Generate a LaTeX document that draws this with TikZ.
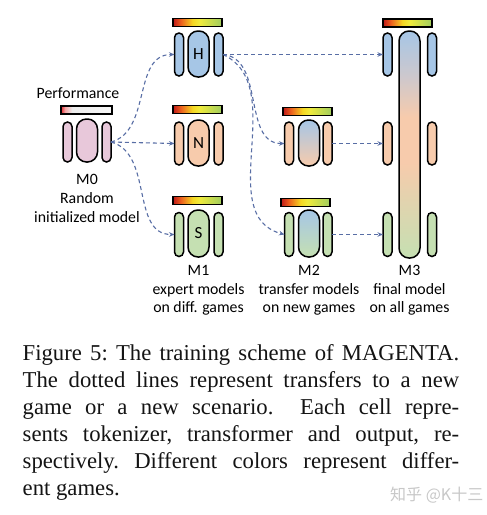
\documentclass[tikz,border=0pt]{standalone}
\usepackage{fontspec}
\setmainfont{Liberation Serif}
\newfontfamily\labfont{Carlito}
\newfontfamily\cjkfont{Noto Sans CJK SC}
\usetikzlibrary{arrows.meta,backgrounds}
\definecolor{cblue}{RGB}{166,198,230}
\definecolor{cpeach}{RGB}{247,203,172}
\definecolor{cgreen}{RGB}{197,224,178}
\definecolor{cpink}{RGB}{232,200,218}
\definecolor{cmix}{RGB}{222,213,175}
\definecolor{cbp}{RGB}{205,200,205}
\definecolor{arrowblue}{RGB}{88,110,165}
\definecolor{captext}{RGB}{20,20,20}
\definecolor{wmark}{RGB}{200,200,200}
\definecolor{pbR}{RGB}{190,25,25}
\definecolor{pbO}{RGB}{236,95,30}
\definecolor{pbY}{RGB}{245,215,35}
\definecolor{pbYY}{RGB}{240,235,60}
\definecolor{pbG}{RGB}{160,205,95}
\definecolor{pzR}{RGB}{225,40,45}
\definecolor{pzP}{RGB}{242,165,165}
\definecolor{pzW}{RGB}{236,236,236}
\definecolor{pzE}{RGB}{246,246,246}
\pgfdeclarehorizontalshading{perfshade}{100bp}{color(0bp)=(pbR); color(25bp)=(pbR); color(33bp)=(pbO); color(45bp)=(pbY); color(52bp)=(pbYY); color(75bp)=(pbG); color(100bp)=(pbG)}
\pgfdeclarehorizontalshading{zeroshade}{100bp}{color(0bp)=(pzR); color(25bp)=(pzR); color(29bp)=(pzP); color(36bp)=(pzW); color(75bp)=(pzE); color(100bp)=(pzE)}
\pgfdeclareverticalshading{finalshade}{100bp}{color(0bp)=(cgreen); color(25bp)=(cgreen); color(36bp)=(cmix); color(46bp)=(cpeach); color(56bp)=(cpeach); color(65bp)=(cbp); color(75bp)=(cblue); color(100bp)=(cblue)}
\begin{document}
\begin{tikzpicture}[x=1pt,y=-1pt,
  cellbase/.style={draw=black, line width=1.5pt, inner sep=0pt, outer sep=0pt},
  sidecell/.style={cellbase, minimum width=9pt, minimum height=43pt, rounded corners=4.5pt},
  midcell/.style={cellbase, minimum width=21pt, minimum height=46pt, rounded corners=10pt, font=\labfont\fontsize{17}{18}\selectfont},
  perfbar/.style={draw=black, line width=1.3pt, minimum width=49pt, minimum height=8pt, inner sep=0pt, outer sep=0pt, shade, shading=perfshade},
  flow/.style={draw=arrowblue, line width=1.1pt, dash pattern=on 4pt off 3pt, -{Stealth[length=5.5pt,width=4.5pt]}},
  lab/.style={font=\labfont\fontsize{15.8}{19}\selectfont, inner sep=0pt, anchor=base},
  capline/.style={font=\frenchspacing\fontsize{22.7}{27}\selectfont, inner sep=0pt, anchor=base west, text=captext}]
\fill[white] (0,0) rectangle (487,515);
\useasboundingbox (0,0) rectangle (487,515);

% M0
\node[perfbar, shading=zeroshade, minimum width=51pt] (m0bar) at (86.5,110) {};
\node[sidecell, fill=cpink, minimum height=40pt] (m0l) at (67.5,142) {};
\node[midcell, fill=cpink, minimum height=43pt] (m0c) at (87,140.5) {};
\node[sidecell, fill=cpink, minimum height=40pt] (m0r) at (106.5,142) {};
\node[lab] (perf) at (78,98) {Performance};
\node[lab] (m0a) at (87,184) {M0};
\node[lab] (m0b) at (87,203) {Random};
\node[lab] (m0d) at (87,222) {initialized model};

% M1
\node[perfbar] (hbar) at (197.5,22.5) {};
\node[sidecell, fill=cblue] (hl) at (179,54.5) {};
\node[midcell, fill=cblue] (hc) at (198.5,54) {H};
\node[sidecell, fill=cblue] (hr) at (218.5,54.5) {};

\node[perfbar] (nbar) at (197.5,109.5) {};
\node[sidecell, fill=cpeach] (nl) at (179,143.5) {};
\node[midcell, fill=cpeach] (nc) at (198.5,143) {N};
\node[sidecell, fill=cpeach] (nr) at (218.5,143.5) {};

\node[perfbar] (sbar) at (197.5,200.5) {};
\node[sidecell, fill=cgreen, minimum height=44pt] (sl) at (179,234.5) {};
\node[midcell, fill=cgreen, minimum height=47pt] (sc) at (198.5,233.5) {S};
\node[sidecell, fill=cgreen, minimum height=44pt] (sr) at (218.5,234.5) {};

\node[lab] (m1a) at (198.5,275) {M1};
\node[lab] (m1b) at (198.5,294) {expert models};
\node[lab] (m1c) at (198.5,312) {on diff. games};

% M2
\node[perfbar] (m2abar) at (307.5,111.5) {};
\node[sidecell, fill=cpeach] (m2al) at (289,143.5) {};
\node[midcell, top color=cblue, bottom color=cpeach] (m2ac) at (309,143) {};
\node[sidecell, fill=cpeach] (m2ar) at (327.5,143.5) {};

\node[perfbar] (m2bbar) at (305.5,202.5) {};
\node[sidecell, fill=cgreen, minimum height=44pt] (m2bl) at (289,234.5) {};
\node[midcell, top color=cblue, bottom color=cgreen, minimum height=47pt] (m2bc) at (309,233.5) {};
\node[sidecell, fill=cgreen, minimum height=44pt] (m2br) at (327.5,234.5) {};

\node[lab] (m2a) at (309,275) {M2};
\node[lab] (m2b) at (309,294) {transfer models};
\node[lab] (m2c) at (309,312) {on new games};

% M3
\node[perfbar] (m3bar) at (407.5,23) {};
\node[sidecell, fill=cblue] (m3l1) at (387.5,54.5) {};
\node[sidecell, fill=cblue] (m3r1) at (432,54.5) {};
\node[sidecell, fill=cpeach] (m3l2) at (387.5,143.5) {};
\node[sidecell, fill=cpeach] (m3r2) at (432,143.5) {};
\node[sidecell, fill=cgreen, minimum height=44pt] (m3l3) at (387.5,234.5) {};
\node[sidecell, fill=cgreen, minimum height=44pt] (m3r3) at (432,234.5) {};
\node[midcell, shade, shading=finalshade, minimum height=227pt] (m3c) at (409.5,144.5) {};

\node[lab] (m3a) at (409.5,275) {M3};
\node[lab] (m3b) at (409.5,294) {final model};
\node[lab] (m3d) at (409.5,312) {on all games};

% connectors
\begin{pgfonlayer}{background}
\draw[flow] (m0c.north) .. controls +(6,-9) and +(-8,0) .. (m0bar.east) -- (m3c.101.75);
\end{pgfonlayer}
\draw[flow] (m0r.east) to[out=15,in=180] (hl.west);
\draw[flow] (m0r.east) -- (nl.west);
\draw[flow] (m0r.east) to[out=-15,in=180] (sl.west);
\draw[flow] (hr.east) -- (m3l1.west);
\draw[flow] (hr.east) to[out=-5,in=180] (m2al.west);
\draw[flow] (hr.east) to[out=-25,in=165] (m2bl.west);
\draw[flow] (m2ar.east) -- (m3l2.west);
\draw[flow] (m2br.east) -- (m3l3.west);

% caption
\node[capline] (cap1) at (22.5,360) {\makebox[436.5pt][s]{Figure 5: The training scheme of MAGENTA.}};
\node[capline] (cap2) at (22.5,387) {\makebox[436.5pt][s]{The dotted lines represent transfers to a new}};
\node[capline] (cap3) at (22.5,414) {\makebox[436.5pt][s]{game or a new scenario.\ \ Each cell repre-}};
\node[capline] (cap4) at (22.5,441) {\makebox[436.5pt][s]{sents tokenizer, transformer and output, re-}};
\node[capline] (cap5) at (22.5,468) {\makebox[436.5pt][s]{spectively. Different colors represent differ-}};
\node[capline] (cap6) at (22.5,495) {ent games.};

\node[font=\cjkfont\fontsize{16}{18}\selectfont, text=wmark, inner sep=0pt, anchor=base west] (wm) at (390,500) {知乎 @K十三};
\end{tikzpicture}
\end{document}
